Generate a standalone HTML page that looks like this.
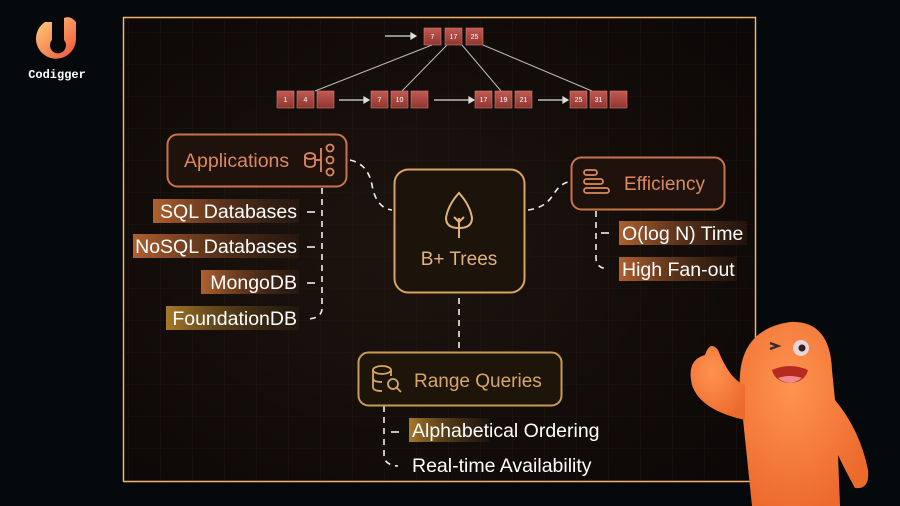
<!DOCTYPE html>
<html><head><meta charset="utf-8"><style>
html,body{margin:0;padding:0;background:#05090c;width:900px;height:506px;overflow:hidden}
svg{display:block}
text{font-family:"Liberation Sans",sans-serif}
text.mono{font-family:"Liberation Mono",monospace}
</style></head><body>
<svg width="900" height="506" viewBox="0 0 900 506" xmlns="http://www.w3.org/2000/svg">
<defs>
<radialGradient id="bg" cx="0.45" cy="0.5" r="0.7">
<stop offset="0" stop-color="#1e140e"/><stop offset="1" stop-color="#0b0807"/>
</radialGradient>
<pattern id="grid" width="32" height="32" patternUnits="userSpaceOnUse">
<path d="M32 0H0V32" fill="none" stroke="#2a1d14" stroke-width="0.6"/>
</pattern>
<linearGradient id="hl" x1="0" x2="1"><stop offset="0" stop-color="#b0602f"/><stop offset="1" stop-color="#3a2214" stop-opacity="0.4"/></linearGradient>
<linearGradient id="hl2" x1="0" x2="1"><stop offset="0" stop-color="#a7782a"/><stop offset="1" stop-color="#3a2a14" stop-opacity="0.3"/></linearGradient>
<linearGradient id="box" x1="0" y1="0" x2="0" y2="1"><stop offset="0" stop-color="#c25a52"/><stop offset="1" stop-color="#8e3630"/></linearGradient>
<linearGradient id="logo" x1="0" y1="0" x2="1" y2="1"><stop offset="0" stop-color="#ffd27a"/><stop offset="1" stop-color="#f0503a"/></linearGradient>
<radialGradient id="mo" cx="0.4" cy="0.35" r="0.7"><stop offset="0" stop-color="#ff9350"/><stop offset="1" stop-color="#ec6a2c"/></radialGradient>
</defs>
<!-- logo -->
<path d="M45 22 A20 20 0 1 0 76 38 L76 22 Q70 15 64 18 L64 40 A8 8 0 1 1 52 40 L52 22 Z" fill="url(#logo)"/>
<text class="mono" x="57" y="78" text-anchor="middle" font-weight="bold" font-size="12" fill="#fff">Codigger</text>
<!-- frame -->
<rect x="123.5" y="17.5" width="632" height="464" fill="url(#bg)" stroke="#f3b26a" stroke-width="1.5"/>
<rect x="124" y="18" width="631" height="463" fill="url(#grid)"/>
<!-- tree lines -->
<g stroke="#bbb" stroke-width="1" fill="none">
<line x1="432" y1="45" x2="315" y2="91"/><line x1="447" y1="45" x2="402" y2="91"/>
<line x1="462" y1="45" x2="501" y2="91"/><line x1="483" y1="45" x2="592" y2="91"/>
</g>
<g stroke="#ddd" stroke-width="1.2" fill="#ddd">
<line x1="385" y1="36" x2="413" y2="36"/><path d="M416 36l-5-3v6z"/>
<line x1="339" y1="100" x2="365" y2="100"/><path d="M369 100l-5-3v6z"/>
<line x1="434" y1="100" x2="470" y2="100"/><path d="M474 100l-5-3v6z"/>
<line x1="538" y1="100" x2="564" y2="100"/><path d="M568 100l-5-3v6z"/>
</g>
<g fill="url(#box)" stroke="#d77a70" stroke-width="0.6">
<rect x="424" y="28" width="17" height="17"/><rect x="445" y="28" width="17" height="17"/><rect x="466" y="28" width="17" height="17"/>
<rect x="277" y="91" width="17" height="17"/><rect x="297" y="91" width="17" height="17"/><rect x="317" y="91" width="17" height="17"/>
<rect x="371" y="91" width="17" height="17"/><rect x="391" y="91" width="17" height="17"/><rect x="411" y="91" width="17" height="17"/>
<rect x="475" y="91" width="17" height="17"/><rect x="495" y="91" width="17" height="17"/><rect x="515" y="91" width="17" height="17"/>
<rect x="570" y="91" width="17" height="17"/><rect x="590" y="91" width="17" height="17"/><rect x="610" y="91" width="17" height="17"/>
</g>
<g font-size="7" fill="#fff" text-anchor="middle">
<text x="432.5" y="39">7</text><text x="453.5" y="39">17</text><text x="474.5" y="39">25</text>
<text x="285.5" y="102">1</text><text x="305.5" y="102">4</text>
<text x="379.5" y="102">7</text><text x="399.5" y="102">10</text>
<text x="483.5" y="102">17</text><text x="503.5" y="102">19</text><text x="523.5" y="102">21</text>
<text x="578.5" y="102">25</text><text x="598.5" y="102">31</text>
</g>
<!-- dashed connectors -->
<g stroke="#eee" stroke-width="1.6" fill="none" stroke-dasharray="6 5">
<path d="M350 160 Q368 164 372 185 Q376 208 392 210"/>
<path d="M528 210 Q545 208 553 195 Q560 184 568 182"/>
<path d="M459 298 V350"/>
<path d="M322 188 V308 Q322 318 308 319"/>
<path d="M596 211 V258 Q596 268 608 269"/>
<path d="M384 406 V455 Q384 465 398 466"/>
</g>
<g stroke="#eee" stroke-width="1.6">
<line x1="307" y1="212" x2="315" y2="212"/><line x1="307" y1="247" x2="315" y2="247"/><line x1="307" y1="283" x2="315" y2="283"/>
<line x1="601" y1="233" x2="609" y2="233"/><line x1="391" y1="432" x2="399" y2="432"/>
</g>
<!-- Applications -->
<rect x="167.5" y="134.5" width="179" height="52" rx="10" fill="#1f120c" stroke="#c8744a" stroke-width="2"/>
<text x="184" y="167" font-size="19.5" fill="#dc8a5c">Applications</text>
<g stroke="#dc8a5c" stroke-width="1.8" fill="none">
<ellipse cx="310" cy="156" rx="5" ry="3"/><path d="M305 156v8a5 3 0 0 0 10 0v-8"/><path d="M316 160h5M321 148v24"/>
<circle cx="330" cy="148" r="3.5"/><circle cx="330" cy="160" r="3.5"/><circle cx="330" cy="172" r="3.5"/>
</g>
<!-- B+ Trees -->
<rect x="394.5" y="169.5" width="130" height="123" rx="14" fill="#1c130b" stroke="#d9a363" stroke-width="2"/>
<g stroke="#e0b478" stroke-width="2" fill="none">
<path d="M459 193 Q470 205 472 218 Q472 228 459 228 Q446 228 446 218 Q448 205 459 193Z"/>
<path d="M459 238V218M459 222l-5-5M459 222l5-5"/>
</g>
<text x="459" y="265" font-size="19" fill="#e0b478" text-anchor="middle">B+ Trees</text>
<!-- Efficiency -->
<rect x="571.5" y="157.5" width="153" height="52" rx="10" fill="#1f120c" stroke="#c8744a" stroke-width="2"/>
<g stroke="#dc8a5c" stroke-width="1.8" fill="none">
<rect x="584" y="170" width="13" height="5" rx="2.5"/><rect x="584" y="179" width="19" height="5" rx="2.5"/><rect x="584" y="188" width="25" height="5" rx="2.5"/>
</g>
<text x="624" y="190" font-size="19" fill="#dc8a5c">Efficiency</text>
<!-- Range -->
<rect x="358.5" y="352.5" width="203" height="53" rx="10" fill="#1d140a" stroke="#c99a50" stroke-width="2"/>
<g stroke="#d8a760" stroke-width="1.8" fill="none">
<ellipse cx="382" cy="370" rx="9" ry="4"/><path d="M373 370v17q0 4 9 4M391 370v6M373 378q0 4 9 4"/>
<circle cx="393" cy="384" r="5"/><path d="M397 388l4 4"/>
</g>
<text x="414" y="387" font-size="19" fill="#d8a760">Range Queries</text>
<!-- labels -->
<rect x="153" y="199" width="146" height="24" fill="url(#hl)"/>
<rect x="133" y="234" width="166" height="24" fill="url(#hl)"/>
<rect x="201" y="270" width="98" height="24" fill="url(#hl)"/>
<rect x="166" y="306" width="133" height="24" fill="url(#hl2)"/>
<rect x="619" y="221" width="128" height="24" fill="url(#hl)"/>
<rect x="619" y="257" width="118" height="24" fill="url(#hl)"/>
<rect x="409" y="418" width="80" height="24" fill="url(#hl2)"/>
<g font-size="19.5" fill="#fff">
<text x="297" y="218" text-anchor="end">SQL Databases</text>
<text x="297" y="253" text-anchor="end">NoSQL Databases</text>
<text x="297" y="289" text-anchor="end">MongoDB</text>
<text x="297" y="325" text-anchor="end">FoundationDB</text>
<text x="622" y="240">O(log N) Time</text>
<text x="622" y="276">High Fan-out</text>
<text x="412" y="437">Alphabetical Ordering</text>
<text x="412" y="472">Real-time Availability</text>
</g>
<!-- mascot -->
<g fill="url(#mo)">
<path d="M752 506 L740 390 Q736 330 790 322 Q830 320 832 370 L835 400 Q860 430 868 470 Q870 490 855 488 Q845 470 838 455 L840 506 Z"/>
<path d="M745 420 Q700 410 692 385 Q686 360 705 355 Q710 340 718 350 Q730 380 745 385 Z"/>
</g>
<path d="M770 343 l8 3 -8 3" stroke="#3a2a30" stroke-width="2.5" fill="none"/>
<circle cx="801" cy="348" r="8" fill="#e6d6dc"/><circle cx="802" cy="348" r="3.5" fill="#3a1c18"/>
<path d="M772 370 Q790 362 808 370 Q805 382 790 383 Q775 382 772 370Z" fill="#b72a20"/>
<path d="M778 378 Q790 374 802 378 Q795 383 790 383 Q782 382 778 378Z" fill="#f08a90"/>
</svg>
</body></html>
